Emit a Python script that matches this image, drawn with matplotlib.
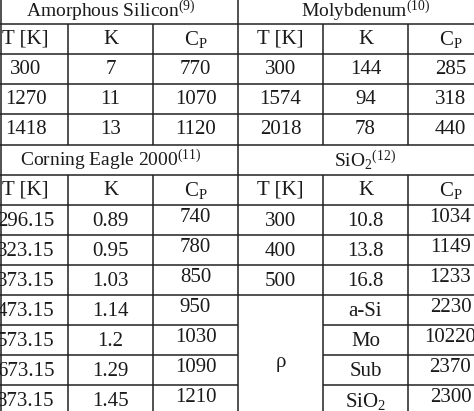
import matplotlib
matplotlib.use("Agg")
import matplotlib.pyplot as plt

plt.rcParams.update({
    "font.family": "Liberation Serif",
    "mathtext.fontset": "custom",
    "mathtext.rm": "Liberation Serif",
    "mathtext.it": "Liberation Serif:italic",
})

# ── Data ─────────────────────────────────────────────────────────
titles = [r"Amorphous Silicon$^{(9)}$", r"Molybdenum$^{(10)}$",
          r"Corning Eagle 2000$^{(11)}$", r"SiO$_2$$^{(12)}$"]
header = ["T [K]", "K", r"C$_\mathrm{P}$"]

asi_T = ["300", "1270", "1418"]
asi_K = ["7", "11", "13"]
asi_C = ["770", "1070", "1120"]

mo_T = ["300", "1574", "2018"]
mo_K = ["144", "94", "78"]
mo_C = ["285", "318", "440"]

ce_T = ["296.15", "323.15", "373.15", "473.15", "573.15", "673.15", "873.15"]
ce_K = ["0.89", "0.95", "1.03", "1.14", "1.2", "1.29", "1.45"]
ce_C = ["740", "780", "850", "950", "1030", "1090", "1210"]

sio_T = ["300", "400", "500"]
sio_K = ["10.8", "13.8", "16.8"]
sio_C = ["1034", "1149", "1233"]

rho_mat = ["a-Si", "Mo", "Sub", r"SiO$_2$"]
rho_val = ["2230", "10220", "2370", "2300"]

# ── Layout (pixel grid of the cropped table) ─────────────────────
W, H = 474, 411
cols = [-17, 68, 153, 238, 323, 408, 493]
rows = [0, 24, 54, 84, 114, 145, 175, 205, 235, 265, 295, 325, 355, 385, 415]
fs = 15
fs_title = 14
tc = "#1a1a1a"
lc = "#222222"
lw = 1.1

fig = plt.figure(figsize=(W / 100, H / 100), dpi=100)
ax = fig.add_axes([0, 0, 1, 1])
ax.set_xlim(0, W)
ax.set_ylim(H, 0)
ax.axis("off")


def hline(y, x0, x1):
    ax.plot([x0, x1], [y, y], color=lc, lw=lw, solid_capstyle="butt")


def vline(x, y0, y1):
    ax.plot([x, x], [y0, y1], color=lc, lw=lw, solid_capstyle="butt")


def cell(text, c0, c1, r0, r1, dy=0, size=fs):
    ax.text((cols[c0] + cols[c1]) / 2, (rows[r0] + rows[r1]) / 2 + dy, text,
            ha="center", va="center", fontsize=size, color=tc)


# horizontal lines
for r in range(1, 11):
    hline(rows[r], cols[0], cols[-1])
for r in [11, 12, 13]:
    hline(rows[r], cols[0], cols[3])
    hline(rows[r], cols[4], cols[-1])

# vertical lines
vline(cols[3], rows[0], rows[-1])
vline(0.5, rows[0], rows[-1])
for c in [1, 2, 4, 5]:
    vline(cols[c], rows[1], rows[5])
    vline(cols[c], rows[6], rows[-1])

# titles
cell(titles[0], 0, 3, 0, 1, dy=-1, size=fs_title)
cell(titles[1], 3, 6, 0, 1, dy=-1, size=fs_title)
cell(titles[2], 0, 3, 5, 6, size=fs_title)
cell(titles[3], 3, 6, 5, 6, size=fs_title)

# headers
for i, h in enumerate(header):
    for r in (1, 6):
        cell(h, i, i + 1, r, r + 1)
        cell(h, i + 3, i + 4, r, r + 1)

# top blocks
for j in range(3):
    for i, col in enumerate([asi_T, asi_K, asi_C]):
        cell(col[j], i, i + 1, 2 + j, 3 + j)
    for i, col in enumerate([mo_T, mo_K, mo_C]):
        cell(col[j], i + 3, i + 4, 2 + j, 3 + j)

# Corning Eagle block
for j in range(len(ce_T)):
    cell(ce_T[j], 0, 1, 7 + j, 8 + j, dy=1)
    cell(ce_K[j], 1, 2, 7 + j, 8 + j, dy=1)
    cell(ce_C[j], 2, 3, 7 + j, 8 + j, dy=-3)

# SiO2 block
for j in range(3):
    cell(sio_T[j], 3, 4, 7 + j, 8 + j, dy=1)
    cell(sio_K[j], 4, 5, 7 + j, 8 + j, dy=1)
    cell(sio_C[j], 5, 6, 7 + j, 8 + j, dy=-3)

# density block
ax.text((cols[3] + cols[4]) / 2, 362, "ρ", ha="center", va="center",
        fontsize=fs, color=tc)
for j in range(len(rho_mat)):
    cell(rho_mat[j], 4, 5, 10 + j, 11 + j, dy=1)
    cell(rho_val[j], 5, 6, 10 + j, 11 + j, dy=-3)

fig.savefig("out.png", dpi=100, facecolor="white")
